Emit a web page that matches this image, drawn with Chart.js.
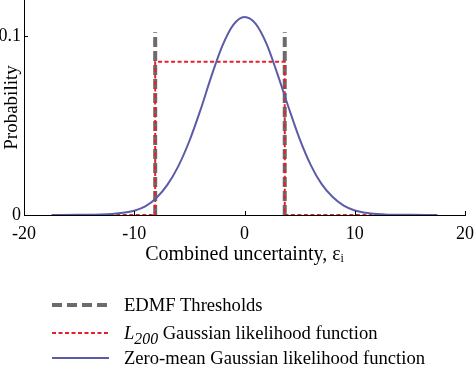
<!DOCTYPE html>
<html>
<head>
<meta charset="utf-8">
<script src="https://cdn.jsdelivr.net/npm/chart.js@4.4.1/dist/chart.umd.min.js"></script>
<style>
  html, body { margin: 0; padding: 0; background: #fff; }
  body { width: 474px; height: 366px; position: relative; overflow: hidden; font-family: "Liberation Serif", "Times New Roman", serif; }
  #wrap { position: absolute; left: 0; top: 0; width: 474px; height: 270px; }
  #legend { position: absolute; left: 0; top: 0; width: 474px; height: 366px; pointer-events: none; }
  .row { position: absolute; left: 52px; height: 24px; display: flex; align-items: center; font-size: 18.6px; color: #000; white-space: nowrap; }
  .row svg { width: 57px; height: 8px; margin-right: 15px; }
  sub { font-size: 85%; vertical-align: -5px; line-height: 0; }
</style>
</head>
<body>
<div id="wrap"><canvas id="c" width="474" height="270"></canvas></div>
<div id="legend"></div>
<script>
// ---- data ----
const xRange = [-20, 20];
const yTicks = [0, 0.1];
const yMax = 0.12;
const xTicks = [-20, -10, 0, 10, 20];

const legendLabels = ["EDMF Thresholds", "L200 Gaussian likelihood function", "Zero-mean Gaussian likelihood function"];

// EDMF thresholds (vertical lines)
const edmfX = [-8.1, 3.65];
const edmfTop = 0.102;

// L200 uniform (box) likelihood
const l200X = [-13.4, -8.1, -8.1, 3.65, 3.65, 11.6];
const l200Y = [0, 0, 0.0855, 0.0855, 0, 0];

// zero-mean Gaussian likelihood
const gaussX = [-17.5, -15, -13, -12, -11, -10, -9, -8, -7, -6, -5, -4, -3, -2, -1, 0, 1, 2, 3, 4, 5, 6, 7, 8, 9, 10, 11, 12, 13, 15, 17.5];
const gaussY = [0, 0.0001, 0.0003, 0.0006, 0.0012, 0.0024, 0.0048, 0.0095, 0.0168, 0.0273, 0.0413, 0.0585, 0.0775, 0.0945, 0.1062, 0.1105, 0.1068, 0.0955, 0.0785, 0.0600, 0.0425, 0.0280, 0.0172, 0.0100, 0.0052, 0.0025, 0.0012, 0.0005, 0.0002, 0.0001, 0];

// ---- styles ----
const grayC = '#6b6b6b', redC = '#e5202b', blueC = '#5a5ca8';
const serif = '"Liberation Serif", "Times New Roman", serif';

const edmfData = [];
edmfX.forEach((x, i) => {
  if (i > 0) edmfData.push({ x: x, y: null });
  edmfData.push({ x: x, y: 0 });
  edmfData.push({ x: x, y: edmfTop });
});
const l200Data = l200X.map((x, i) => ({ x: x, y: l200Y[i] }));
const gaussData = gaussX.map((x, i) => ({ x: x, y: gaussY[i] }));

const inwardTicks = {
  id: 'inwardTicks',
  afterDatasetsDraw(chart) {
    const ctx = chart.ctx, xs = chart.scales.x, ys = chart.scales.y;
    const base = ys.getPixelForValue(0), left = xs.left;
    ctx.save();
    ctx.strokeStyle = '#000';
    ctx.lineWidth = 1;
    ctx.beginPath();
    xTicks.forEach(v => { const p = Math.round(xs.getPixelForValue(v)) + 0.5; ctx.moveTo(p, base); ctx.lineTo(p, base - 4); });
    yTicks.forEach(v => { const p = Math.round(ys.getPixelForValue(v)) + 0.5; ctx.moveTo(left, p); ctx.lineTo(left + 4, p); });
    ctx.stroke();
    ctx.restore();
  }
};

new Chart(document.getElementById('c'), {
  type: 'scatter',
  data: {
    datasets: [
      { label: legendLabels[0], data: edmfData, showLine: true, borderColor: grayC, borderWidth: 4, borderDash: [10, 4], pointRadius: 0, spanGaps: false, order: 3 },
      { label: legendLabels[1], data: l200Data, showLine: true, borderColor: redC, borderWidth: 2, borderDash: [4, 2.5], pointRadius: 0, order: 2 },
      { label: legendLabels[2], data: gaussData, showLine: true, borderColor: blueC, borderWidth: 2, pointRadius: 0, cubicInterpolationMode: 'monotone', order: 1 }
    ]
  },
  options: {
    responsive: false,
    animation: false,
    layout: { padding: { left: 0, right: 0, top: 0, bottom: 0 } },
    plugins: { legend: { display: false }, tooltip: { enabled: false } },
    scales: {
      x: {
        type: 'linear', min: xRange[0], max: xRange[1],
        afterFit(s) { s.height = 55; s.paddingTop = 0; s.paddingBottom = 0; },
        afterBuildTicks(s) { s.ticks = xTicks.map(v => ({ value: v })); },
        border: { display: true, color: '#000', width: 1 },
        grid: { display: false, drawTicks: true, tickLength: 8 },
        ticks: { padding: 0, color: '#000', font: { family: serif, size: 18 }, maxRotation: 0 },
        title: { display: true, text: 'Combined uncertainty, εᵢ', color: '#000', font: { family: serif, size: 20 }, padding: { top: 0, bottom: 3 } }
      },
      y: {
        type: 'linear', min: 0, max: yMax,
        afterFit(s) { s.width = 24; s.paddingTop = 0; s.paddingBottom = 0; },
        afterBuildTicks(s) { s.ticks = yTicks.concat([yMax]).map(v => ({ value: v })); },
        border: { display: true, color: '#000', width: 1 },
        grid: { display: false, drawTicks: true, tickLength: 3 },
        ticks: { padding: 0, color: '#000', font: { family: serif, size: 18 }, callback: v => (yTicks.includes(v) ? String(v) : null) },
        title: { display: true, text: 'Probability', color: '#000', font: { family: serif, size: 19 }, padding: { top: 1, bottom: 0 } }
      }
    }
  },
  plugins: [inwardTicks]
});

// HTML legend (real text)
const legend = document.getElementById('legend');
const rowTops = [293, 321, 346];
const samples = [
  `<svg viewBox="0 0 57 8"><line x1="0" y1="4" x2="57" y2="4" stroke="${grayC}" stroke-width="4" stroke-dasharray="10 5"/></svg>`,
  `<svg viewBox="0 0 57 8"><line x1="0" y1="4" x2="57" y2="4" stroke="${redC}" stroke-width="2" stroke-dasharray="4 2.5"/></svg>`,
  `<svg viewBox="0 0 57 8"><line x1="0" y1="4" x2="57" y2="4" stroke="${blueC}" stroke-width="2"/></svg>`
];
const texts = [
  legendLabels[0],
  '<i>L</i><sub><i>200</i></sub>&nbsp;Gaussian likelihood function',
  legendLabels[2]
];
texts.forEach((t, i) => {
  const d = document.createElement('div');
  d.className = 'row';
  d.style.top = rowTops[i] + 'px';
  d.innerHTML = samples[i] + '<span>' + t + '</span>';
  legend.appendChild(d);
});
</script>
</body>
</html>
